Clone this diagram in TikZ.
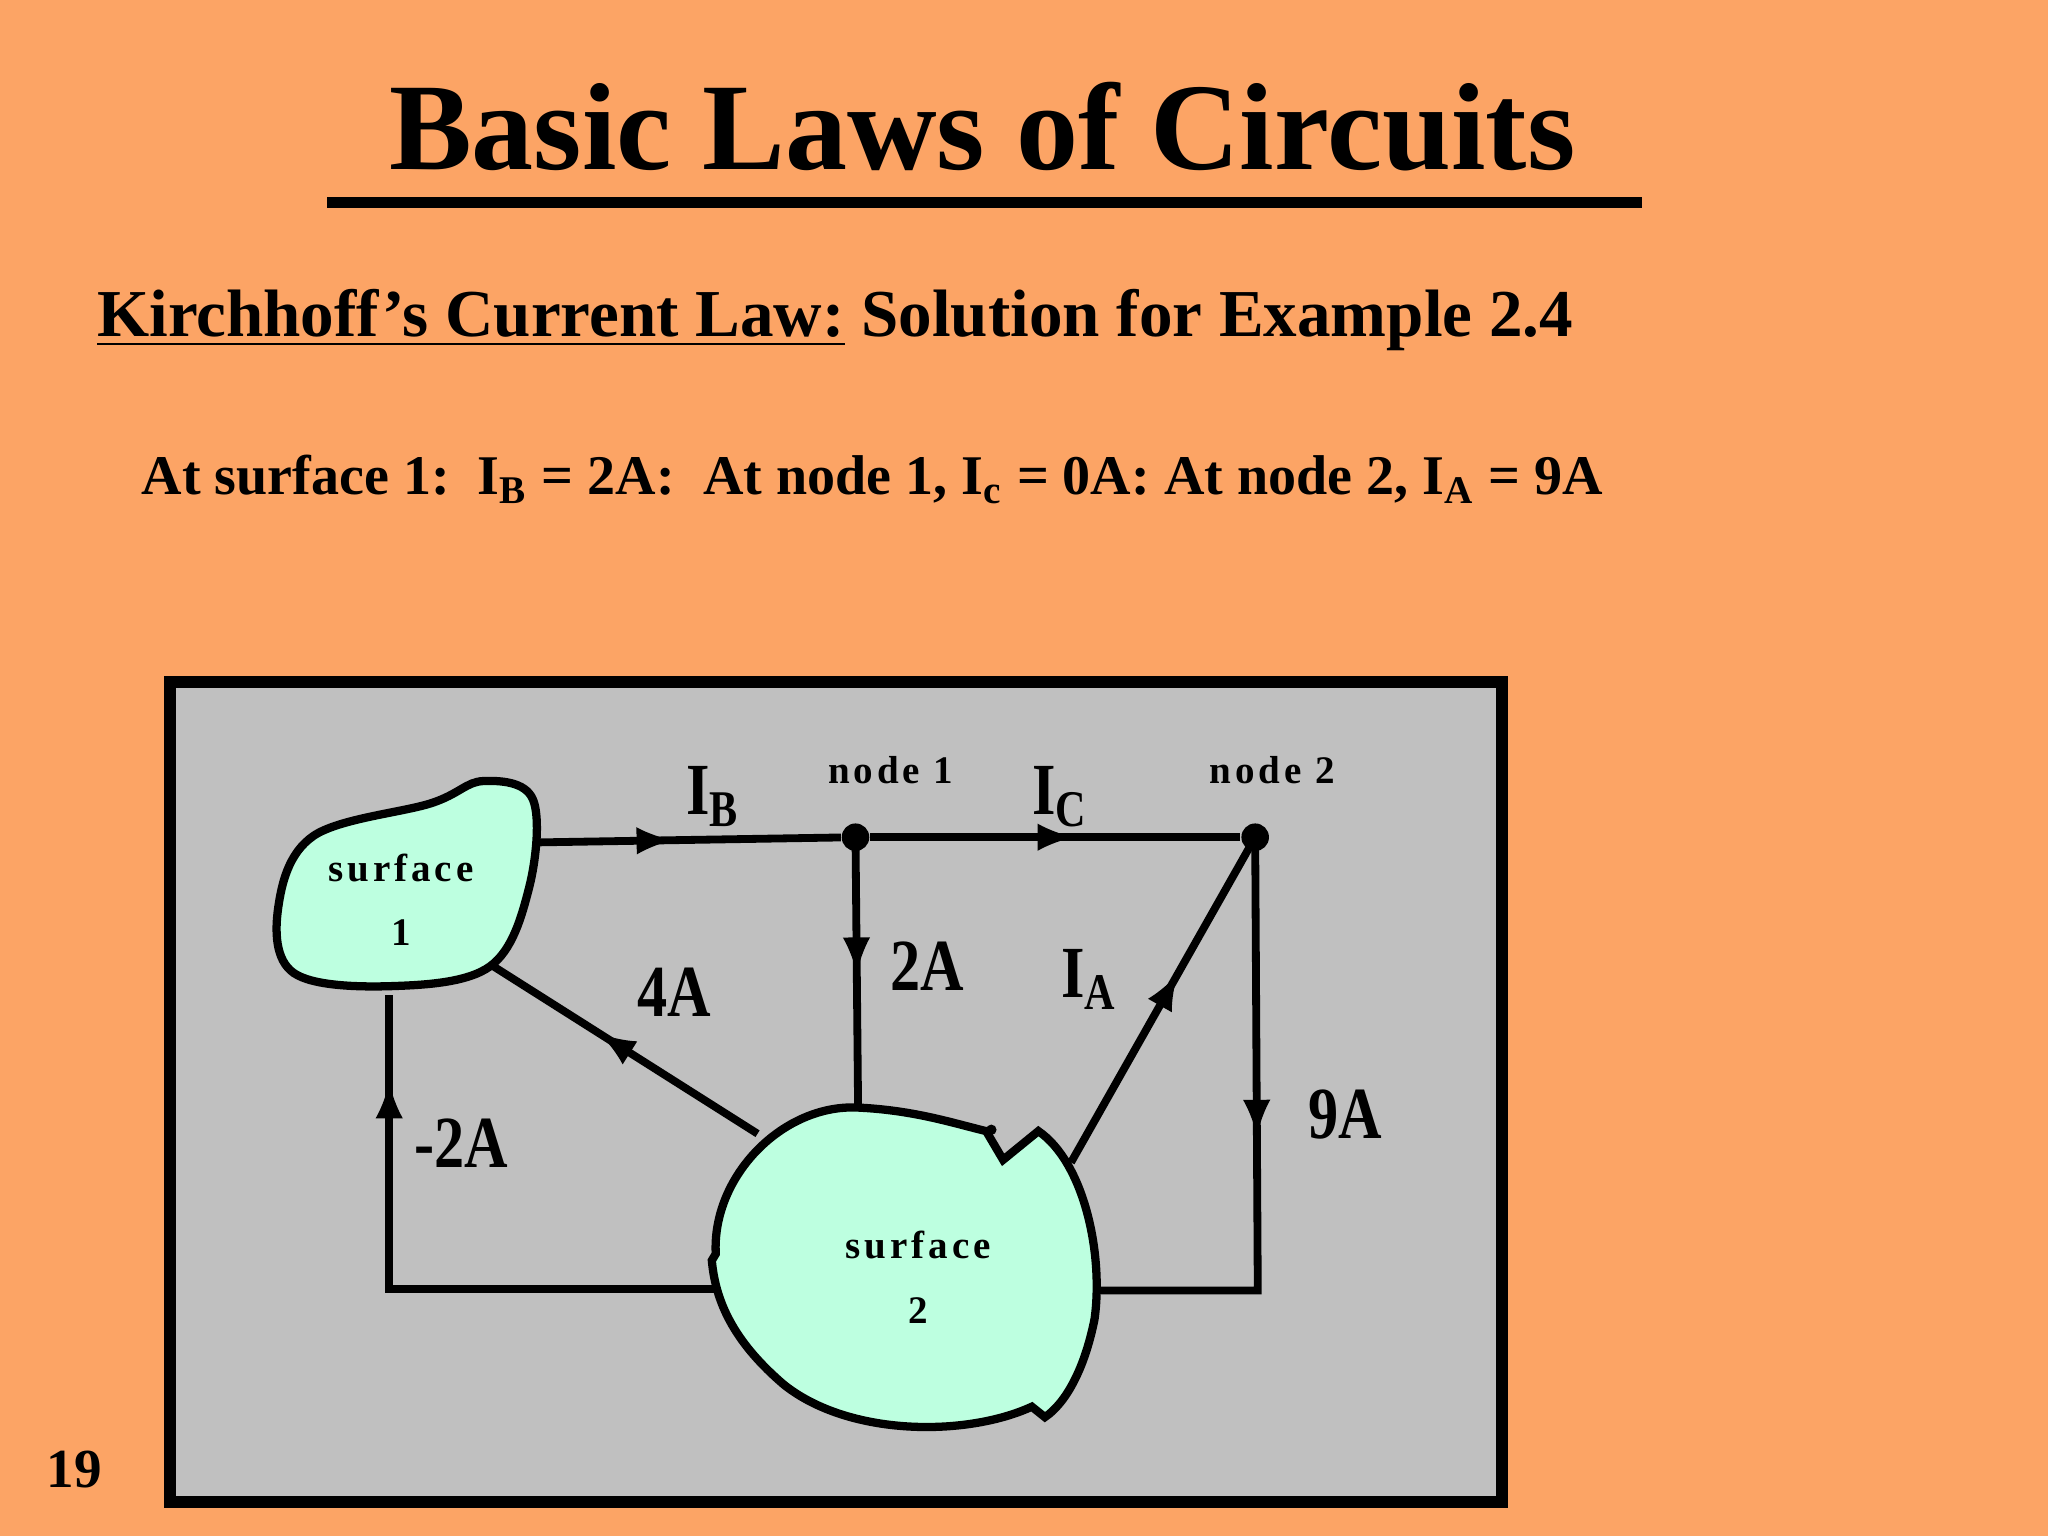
\documentclass[tikz,border=0pt]{standalone}
\usepackage{fontspec}
\setmainfont{Liberation Serif}
\newfontfamily\spaced[LetterSpace=10]{Liberation Serif}
\newfontfamily\narrow[FakeStretch=0.82]{Liberation Serif}
\usetikzlibrary{decorations.markings}
\definecolor{bgor}{HTML}{FCA465}
\definecolor{boxg}{HTML}{C0C0C0}
\definecolor{mint}{HTML}{BDFFE0}
\tikzset{
 wire/.style={line width=1.7pt},
 blob/.style={line width=1.8pt, fill=mint},
 arr/.style={wire, postaction={decorate}, decoration={markings, mark=at position #1 with {\arrow{latex}}}},
 lab/.style={font=\narrow\bfseries\fontsize{16}{16}\selectfont},
 small/.style={font=\spaced\bfseries\fontsize{8.5}{11}\selectfont, align=center},
 dot/.style={circle, fill=black, inner sep=0pt, minimum size=6pt}
}
\begin{document}
\begin{tikzpicture}[x=0.01cm,y=-0.01cm]
\fill[bgor] (0,0) rectangle (1568,1176);
\useasboundingbox (0,0) rectangle (1568,1176);
\node[font=\bfseries\fontsize{27}{27}\selectfont] (title) at (752,97) {Basic Laws of Circuits};
\fill (250,151) rectangle (1257,159);
\node[font=\bfseries\fontsize{14.6}{16}\selectfont, anchor=west] (sub) at (62,245) {\underline{Kirchhoff’s Current Law:} Solution for Example 2.4};
\node[font=\bfseries\fontsize{12.2}{14}\selectfont, anchor=west] (line) at (96,367) {At surface 1:\ \ I\textsubscript{B} = 2A:\ \ At node 1, I\textsubscript{c} = 0A: At node 2, I\textsubscript{A} = 9A};
\node[font=\bfseries\fontsize{12}{12}\selectfont] (pg) at (57,1125) {19};
\draw[line width=2.6pt, fill=boxg] (130,522) rectangle (1150,1150);
\node[dot] (n1) at (655,641) {};
\node[dot] (n2) at (961,641) {};
\coordinate (s1r) at (410,645);
\coordinate (s1b) at (298,762);
\coordinate (s1d) at (378,740);
\coordinate (s2t) at (657,850);
\coordinate (s2ur) at (820,890);
\coordinate (s2ul) at (580,868);
\coordinate (s2l) at (548,987);
\coordinate (s2r) at (843,988);
\coordinate (c1) at (298,987);
\coordinate (c2) at (963,988);
\draw[arr=0.45] (s1r) -- (n1);
\draw[arr=0.55] (n1) -- (n2);
\draw[arr=0.5] (n1.center) -- (s2t);
\draw[arr=0.49] (n2.center) -- (c2) -- (s2r);
\draw[arr=0.58] (s2ur) -- (n2.center);
\draw[arr=0.6] (s2ul) -- (s1d);
\draw[arr=0.86] (s2l) -- (c1) -- (s1b);
\draw[blob] plot[smooth cycle, tension=0.6] coordinates {(240,640) (330,615) (370,598) (408,612) (405,680) (375,740) (300,755) (225,745) (213,695)};
\draw[blob] (548,960) .. controls (545,900) and (600,845) .. (657,848)
  .. controls (700,850) and (730,860) .. (755,866)
  -- (768,888) -- (795,866)
  .. controls (830,890) and (845,960) .. (838,1010)
  .. controls (830,1050) and (815,1075) .. (800,1085)
  -- (790,1077)
  .. controls (740,1100) and (650,1100) .. (600,1060)
  .. controls (565,1030) and (548,1000) .. (545,965) -- cycle;
\fill (759,865) circle (4);
\node[small] (t1) at (307,689) {surface\\[3pt]1};
\node[small] (t2) at (703,978) {surface\\[3pt]2};
\node[small] (ln1) at (682,590) {node 1};
\node[small] (ln2) at (974,590) {node 2};
\node[lab] (lIB) at (546,610) {I\textsubscript{B}};
\node[lab] (lIC) at (812,610) {I\textsubscript{C}};
\node[lab] (lIA) at (834,750) {I\textsubscript{A}};
\node[lab] (l2A) at (710,740) {2A};
\node[lab] (l4A) at (516,760) {4A};
\node[lab] (l9A) at (1030,853) {9A};
\node[lab] (lm2A) at (353,875) {-2A};
\end{tikzpicture}
\end{document}
